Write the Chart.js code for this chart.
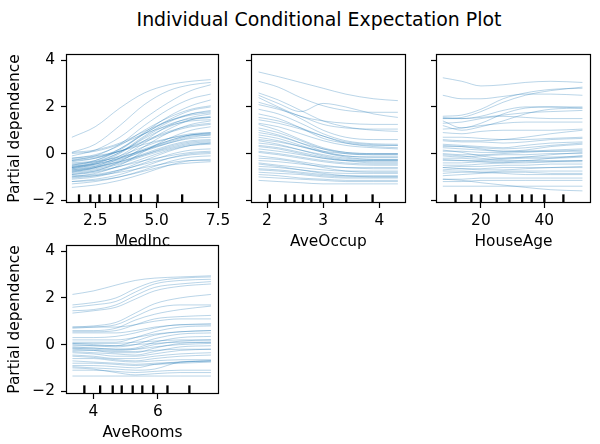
<!DOCTYPE html>
<html lang="en">
<head>
<meta charset="UTF-8" />
<title>Individual Conditional Expectation Plot</title>
<script src="https://cdn.jsdelivr.net/npm/chart.js"></script>
<style>
  body { margin: 0; background: #fff; }
  #wrap { position: relative; width: 600px; height: 444px; overflow: hidden; font-family: "DejaVu Sans"; }
  #wrap canvas { position: absolute; left: 0; top: 0; }
  #title { position: absolute; left: 0; top: 8px; width: 638px; text-align: center; font-size: 18.9px; color: #000; white-space: nowrap; }
</style>
</head>
<body>
<div id="wrap">
  <div id="title">Individual Conditional Expectation Plot</div>
  <canvas id="c1" width="600" height="444"></canvas>
  <canvas id="c2" width="600" height="444"></canvas>
  <canvas id="c3" width="600" height="444"></canvas>
  <canvas id="c4" width="600" height="444"></canvas>
</div>

<script>
  // shared y axis
  const yTicks = [-2, 0, 2, 4];
  const yTickLabels = ["\u22122", "0", "2", "4"];

  // MedInc
  const medIncGrid = [1.55, 2.5, 3.5, 4.5, 5.5, 6.4, 7.2];
  const medIncTicks = [2.5, 5.0, 7.5];
  const medIncTickLabels = ["2.5", "5.0", "7.5"];
  const medIncDeciles = [1.84, 2.3, 2.67, 3.11, 3.51, 3.95, 4.36, 5.04, 6.04];
  const medIncIce = [
    [0.7, 1.15, 1.95, 2.6, 2.95, 3.1, 3.17],
    [0.05, 0.4, 1.2, 2.1, 2.7, 2.95, 3.05],
    [-0.1, 0.15, 0.7, 1.5, 2.2, 2.7, 2.95],
    [-0.3, -0.1, 0.4, 1.2, 1.9, 2.35, 2.55],
    [-0.5, -0.3, 0.2, 0.9, 1.6, 2.05, 2.3],
    [-0.2, -0.05, 0.35, 1.0, 1.55, 1.9, 2.05],
    [-0.6, -0.4, 0.05, 0.75, 1.35, 1.7, 1.85],
    [-0.4, -0.3, 0.15, 0.85, 1.4, 1.7, 1.8],
    [-0.7, -0.55, -0.1, 0.55, 1.2, 1.55, 1.7],
    [-0.8, -0.6, -0.2, 0.45, 1.05, 1.45, 1.6],
    [-0.65, -0.45, 0.0, 0.7, 1.25, 1.5, 1.55],
    [-0.9, -0.75, -0.35, 0.3, 0.9, 1.25, 1.4],
    [-1.0, -0.85, -0.5, 0.1, 0.65, 1.0, 1.15],
    [-0.3, -0.2, 0.1, 0.55, 0.95, 1.2, 1.3],
    [-0.55, -0.4, -0.1, 0.3, 0.65, 0.85, 0.9],
    [-0.6, -0.45, -0.2, 0.2, 0.55, 0.8, 0.85],
    [-0.2, -0.1, 0.1, 0.4, 0.65, 0.8, 0.85],
    [-0.7, -0.6, -0.35, 0.0, 0.35, 0.55, 0.6],
    [-0.75, -0.65, -0.4, -0.05, 0.3, 0.5, 0.55],
    [-0.9, -0.8, -0.55, -0.2, 0.15, 0.35, 0.4],
    [-1.1, -1.0, -0.75, -0.4, -0.05, 0.15, 0.2],
    [-1.2, -1.1, -0.9, -0.55, -0.2, 0.0, 0.05],
    [-1.3, -1.2, -1.0, -0.7, -0.35, -0.15, -0.1],
    [-1.45, -1.35, -1.15, -0.85, -0.5, -0.3, -0.25],
    [-1.0, -0.95, -0.8, -0.6, -0.4, -0.3, -0.3],
    [-0.85, -0.75, -0.55, -0.3, -0.1, 0.05, 0.1],
    [0.0, 0.1, 0.4, 0.85, 1.2, 1.4, 1.45],
    [-0.45, -0.35, -0.15, 0.15, 0.45, 0.65, 0.7],
    [-0.95, -0.9, -0.7, -0.45, -0.2, -0.05, 0.0],
    [-1.2, -1.15, -1.0, -0.75, -0.5, -0.4, -0.35],
    [-0.5, -0.35, 0.05, 0.65, 1.15, 1.45, 1.55],
    [-0.35, -0.2, 0.2, 0.85, 1.45, 1.85, 2.0],
    [-0.75, -0.6, -0.3, 0.15, 0.55, 0.8, 0.9],
    [-0.6, -0.5, -0.25, 0.1, 0.45, 0.7, 0.8],
    [0.05, 0.15, 0.45, 0.95, 1.4, 1.65, 1.75],
    [-1.05, -0.95, -0.7, -0.3, 0.1, 0.35, 0.45],
    [-0.55, -0.45, -0.2, 0.15, 0.5, 0.75, 0.8],
    [-0.25, -0.15, 0.1, 0.5, 0.9, 1.15, 1.25],
    [-0.8, -0.7, -0.45, -0.1, 0.2, 0.4, 0.45],
    [-0.65, -0.55, -0.35, -0.05, 0.25, 0.45, 0.5]
  ];

  // AveOccup
  const aveOccupGrid = [1.85, 2.2, 2.6, 3.0, 3.4, 3.9, 4.33];
  const aveOccupTicks = [2, 3, 4];
  const aveOccupTickLabels = ["2", "3", "4"];
  const aveOccupDeciles = [2.05, 2.33, 2.49, 2.64, 2.79, 2.95, 3.16, 3.41, 3.88];
  const aveOccupIce = [
    [3.5, 3.3, 3.05, 2.8, 2.55, 2.35, 2.27],
    [3.1, 2.85, 2.4, 2.05, 1.85, 1.77, 1.77],
    [2.5, 2.15, 1.8, 2.15, 2.0, 1.7, 1.55],
    [2.6, 2.3, 1.85, 1.4, 1.15, 1.0, 0.95],
    [2.1, 1.9, 1.6, 1.25, 1.1, 1.05, 1.05],
    [2.2, 1.95, 1.5, 1.0, 0.7, 0.6, 0.6],
    [1.9, 1.7, 1.3, 0.85, 0.55, 0.42, 0.4],
    [1.45, 1.3, 1.05, 0.75, 0.45, 0.3, 0.25],
    [1.3, 1.15, 0.85, 0.55, 0.35, 0.25, 0.2],
    [1.25, 1.0, 0.6, 0.25, 0.05, 0.0, 0.0],
    [1.1, 0.9, 0.55, 0.2, 0.0, -0.05, -0.05],
    [1.0, 0.8, 0.45, 0.1, -0.1, -0.15, -0.15],
    [0.9, 0.75, 0.45, 0.2, 0.05, 0.0, 0.0],
    [0.7, 0.55, 0.3, 0.05, -0.1, -0.15, -0.15],
    [0.6, 0.5, 0.3, 0.1, 0.0, -0.05, -0.05],
    [0.45, 0.35, 0.15, -0.05, -0.2, -0.25, -0.25],
    [0.3, 0.2, 0.0, -0.2, -0.3, -0.35, -0.35],
    [0.2, 0.1, -0.05, -0.2, -0.3, -0.3, -0.3],
    [0.05, -0.05, -0.2, -0.35, -0.45, -0.5, -0.5],
    [-0.1, -0.2, -0.35, -0.5, -0.6, -0.65, -0.65],
    [-0.3, -0.35, -0.45, -0.55, -0.6, -0.6, -0.6],
    [-0.4, -0.5, -0.6, -0.7, -0.75, -0.75, -0.75],
    [-0.55, -0.6, -0.7, -0.8, -0.85, -0.85, -0.85],
    [-0.65, -0.7, -0.8, -0.9, -0.95, -0.95, -0.95],
    [-0.8, -0.85, -0.9, -1.0, -1.05, -1.05, -1.05],
    [-0.9, -0.95, -1.05, -1.1, -1.15, -1.15, -1.15],
    [-1.15, -1.2, -1.25, -1.3, -1.3, -1.3, -1.3],
    [0.8, 0.65, 0.35, 0.05, -0.15, -0.25, -0.25],
    [0.35, 0.25, 0.05, -0.15, -0.3, -0.4, -0.4],
    [1.55, 1.4, 1.1, 0.75, 0.5, 0.38, 0.35],
    [-0.2, -0.25, -0.4, -0.6, -0.75, -0.8, -0.8],
    [0.1, 0.0, -0.15, -0.3, -0.4, -0.45, -0.45],
    [-0.45, -0.55, -0.7, -0.85, -0.95, -1.0, -1.0],
    [2.4, 2.0, 1.6, 1.4, 1.3, 1.25, 1.25],
    [1.7, 1.5, 1.1, 0.65, 0.45, 0.35, 0.35],
    [0.55, 0.4, 0.15, -0.1, -0.25, -0.3, -0.3],
    [-0.7, -0.75, -0.85, -0.95, -1.0, -1.0, -1.0],
    [-1.0, -1.05, -1.1, -1.15, -1.2, -1.2, -1.2]
  ];

  // HouseAge
  const houseAgeGrid = [8, 14, 20, 27, 34, 42, 52];
  const houseAgeTicks = [20, 40];
  const houseAgeTickLabels = ["20", "40"];
  const houseAgeDeciles = [12, 17, 20, 25, 29, 33, 36, 40, 46];
  const houseAgeIce = [
    [3.25, 3.1, 2.9, 2.95, 3.05, 3.1, 3.05],
    [2.5, 2.35, 2.35, 2.45, 2.55, 2.55, 2.5],
    [1.6, 1.65, 1.9, 2.35, 2.6, 2.75, 2.8],
    [1.5, 1.55, 1.8, 2.2, 2.5, 2.7, 2.85],
    [1.55, 1.5, 1.6, 1.85, 2.0, 2.0, 1.95],
    [1.4, 1.1, 1.3, 1.7, 1.95, 2.0, 2.0],
    [1.5, 1.5, 1.55, 1.65, 1.75, 1.8, 1.85],
    [1.3, 1.35, 1.5, 1.6, 1.55, 1.5, 1.5],
    [1.2, 1.0, 1.15, 1.4, 1.7, 1.9, 1.95],
    [0.9, 0.85, 0.95, 1.0, 1.0, 1.0, 1.05],
    [0.6, 0.55, 0.55, 0.6, 0.7, 0.85, 1.0],
    [0.55, 0.5, 0.5, 0.45, 0.5, 0.6, 0.65],
    [0.4, 0.35, 0.3, 0.25, 0.35, 0.45, 0.5],
    [0.35, 0.3, 0.2, 0.1, 0.15, 0.3, 0.4],
    [0.25, 0.2, 0.15, 0.1, 0.1, 0.15, 0.2],
    [0.1, 0.1, 0.05, 0.05, 0.1, 0.1, 0.15],
    [0.0, -0.05, -0.05, 0.0, 0.05, 0.1, 0.1],
    [-0.1, -0.15, -0.1, -0.05, -0.05, 0.0, 0.0],
    [-0.2, -0.2, -0.25, -0.2, -0.15, -0.15, -0.1],
    [-0.3, -0.3, -0.3, -0.25, -0.2, -0.2, -0.15],
    [-0.4, -0.4, -0.35, -0.35, -0.3, -0.3, -0.3],
    [-0.5, -0.5, -0.45, -0.4, -0.35, -0.35, -0.35],
    [-0.6, -0.55, -0.55, -0.5, -0.5, -0.45, -0.45],
    [-0.7, -0.65, -0.65, -0.6, -0.6, -0.6, -0.6],
    [-0.85, -0.8, -0.8, -0.75, -0.75, -0.75, -0.75],
    [-0.95, -0.9, -0.85, -0.8, -0.8, -0.85, -0.85],
    [-1.1, -1.1, -1.05, -1.05, -1.05, -1.05, -1.05],
    [-1.2, -1.2, -1.15, -1.15, -1.15, -1.15, -1.15],
    [-1.1, -1.15, -1.25, -1.35, -1.45, -1.55, -1.6],
    [-1.4, -1.4, -1.4, -1.4, -1.4, -1.4, -1.4],
    [0.15, 0.05, -0.1, -0.2, -0.15, -0.05, 0.05],
    [-0.05, -0.1, -0.2, -0.3, -0.3, -0.2, -0.1],
    [0.7, 0.7, 0.65, 0.6, 0.6, 0.65, 0.7],
    [-0.25, -0.3, -0.35, -0.4, -0.4, -0.35, -0.3],
    [-0.6, -0.65, -0.7, -0.7, -0.65, -0.6, -0.55],
    [0.3, 0.3, 0.25, 0.2, 0.25, 0.35, 0.45],
    [1.05, 1.1, 1.2, 1.3, 1.35, 1.35, 1.35],
    [-0.75, -0.75, -0.8, -0.85, -0.9, -0.9, -0.9]
  ];

  // AveRooms
  const aveRoomsGrid = [3.35, 4.0, 4.7, 5.3, 5.9, 6.7, 7.65];
  const aveRoomsTicks = [4, 6];
  const aveRoomsTickLabels = ["4", "6"];
  const aveRoomsDeciles = [3.72, 4.21, 4.6, 4.88, 5.22, 5.52, 5.86, 6.3, 6.98];
  const aveRoomsIce = [
    [2.15, 2.3, 2.55, 2.75, 2.85, 2.9, 2.95],
    [1.7, 1.8, 2.0, 2.4, 2.7, 2.85, 2.9],
    [1.6, 1.7, 1.85, 2.25, 2.6, 2.75, 2.8],
    [1.45, 1.5, 1.7, 2.1, 2.45, 2.6, 2.7],
    [1.35, 1.45, 1.6, 1.95, 2.3, 2.5, 2.6],
    [0.75, 0.8, 0.95, 1.35, 1.75, 2.0, 2.15],
    [0.7, 0.75, 0.85, 1.2, 1.55, 1.7, 1.7],
    [0.6, 0.6, 0.7, 1.05, 1.3, 1.5, 1.65],
    [0.75, 0.75, 0.75, 0.85, 1.0, 1.1, 1.1],
    [0.5, 0.5, 0.5, 0.6, 0.75, 0.85, 0.9],
    [0.1, 0.1, 0.1, 0.3, 0.55, 0.75, 0.8],
    [0.05, 0.0, -0.05, 0.15, 0.4, 0.55, 0.6],
    [0.0, -0.05, -0.1, 0.0, 0.25, 0.45, 0.5],
    [-0.1, -0.15, -0.2, -0.15, 0.1, 0.3, 0.35],
    [-0.15, -0.2, -0.25, -0.2, 0.0, 0.15, 0.2],
    [-0.2, -0.25, -0.35, -0.35, -0.15, 0.05, 0.1],
    [-0.3, -0.35, -0.4, -0.45, -0.3, -0.1, -0.05],
    [-0.35, -0.4, -0.5, -0.5, -0.4, -0.25, -0.2],
    [-0.45, -0.5, -0.6, -0.6, -0.5, -0.4, -0.35],
    [-0.6, -0.6, -0.7, -0.75, -0.7, -0.65, -0.65],
    [-0.9, -0.9, -0.95, -1.0, -0.85, -0.75, -0.7],
    [-0.95, -1.0, -1.05, -1.1, -1.05, -0.75, -0.7],
    [-1.0, -1.05, -1.2, -1.3, -1.25, -1.2, -1.2],
    [-1.35, -1.35, -1.35, -1.35, -1.35, -1.35, -1.35],
    [0.05, 0.05, 0.05, 0.1, 0.15, 0.2, 0.2],
    [-0.05, -0.05, -0.05, 0.0, 0.05, 0.1, 0.1],
    [-0.25, -0.25, -0.3, -0.3, -0.25, -0.2, -0.2],
    [-0.7, -0.75, -0.8, -0.85, -0.8, -0.75, -0.7],
    [0.55, 0.55, 0.6, 0.85, 1.1, 1.2, 1.25],
    [0.3, 0.3, 0.35, 0.5, 0.7, 0.85, 0.85],
    [-0.5, -0.55, -0.65, -0.7, -0.6, -0.5, -0.45],
    [-0.8, -0.8, -0.85, -0.9, -0.85, -0.8, -0.75],
    [-0.15, -0.15, -0.2, -0.2, -0.1, 0.0, 0.05],
    [0.2, 0.2, 0.2, 0.3, 0.45, 0.55, 0.6],
    [-1.1, -1.1, -1.15, -1.2, -1.15, -1.1, -1.1]
  ];

  const FONT = "DejaVu Sans";
  const FONT_SIZE = 15.4;
  const LINE_COLOR = "rgba(31, 119, 180, 0.35)";
  const Y_MIN = -2.12, Y_MAX = 4.27;
  const X_AXIS_H = 48;
  const PAD_LEFT = 6;

  // white axes background + black frame + decile rug
  const axesPlugin = {
    id: "axesFrame",
    beforeDraw(chart) {
      const { ctx, chartArea: a } = chart;
      ctx.save();
      ctx.fillStyle = "#fff";
      ctx.fillRect(a.left, a.top, a.right - a.left, a.bottom - a.top);
      ctx.restore();
    },
    afterDatasetsDraw(chart, args, opts) {
      const { ctx, chartArea: a, scales: { x } } = chart;
      const h = (a.bottom - a.top) * 0.058;
      ctx.save();
      ctx.strokeStyle = "#000";
      ctx.lineWidth = 2.3;
      opts.deciles.forEach(v => {
        const px = x.getPixelForValue(v);
        ctx.beginPath();
        ctx.moveTo(px, a.bottom);
        ctx.lineTo(px, a.bottom - h);
        ctx.stroke();
      });
      ctx.lineWidth = 1.2;
      ctx.strokeRect(a.left + 0.5, a.top + 0.5, a.right - a.left - 1, a.bottom - a.top - 1);
      ctx.restore();
    }
  };

  function makePanel(id, box, grid, ice, xMin, xMax, ticks, tickLabels, deciles, xTitle, showY) {
    const datasets = ice.map(line => ({
      data: line.map((y, i) => ({ x: grid[i], y })),
      borderColor: LINE_COLOR,
      borderWidth: 0.9,
      pointRadius: 0,
      fill: false,
      cubicInterpolationMode: "monotone"
    }));

    const font = { family: FONT, size: FONT_SIZE };
    const gridOpts = { drawOnChartArea: false, drawTicks: true, tickLength: 5, tickColor: "#000", tickWidth: 1.2 };

    new Chart(document.getElementById(id), {
      type: "line",
      data: { datasets },
      plugins: [axesPlugin],
      options: {
        responsive: false,
        animation: false,
        events: [],
        layout: {
          padding: { left: PAD_LEFT, top: box.top, right: 600 - box.right, bottom: 444 - box.bottom - X_AXIS_H }
        },
        plugins: {
          legend: { display: false },
          tooltip: { enabled: false },
          axesFrame: { deciles }
        },
        scales: {
          x: {
            type: "linear",
            min: xMin,
            max: xMax,
            afterBuildTicks: s => { s.ticks = ticks.map(v => ({ value: v })); },
            afterFit: s => { s.height = X_AXIS_H; },
            border: { display: false },
            grid: gridOpts,
            ticks: { color: "#000", font, padding: 4, maxRotation: 0, callback: (v, i) => tickLabels[i] },
            title: { display: true, text: xTitle, color: "#000", font, padding: 0 }
          },
          y: {
            type: "linear",
            min: Y_MIN,
            max: Y_MAX,
            afterBuildTicks: s => { s.ticks = yTicks.map(v => ({ value: v })); },
            afterFit: s => { s.width = box.left - PAD_LEFT; },
            border: { display: false },
            grid: gridOpts,
            ticks: { color: "#000", font, padding: 6, callback: (v, i) => showY ? yTickLabels[i] : "" },
            title: { display: showY, text: "Partial dependence", color: "#000", font, padding: 0 }
          }
        }
      }
    });
  }

  makePanel("c1", { left: 66, top: 54, right: 219, bottom: 203 }, medIncGrid, medIncIce, 1.31, 7.54,
    medIncTicks, medIncTickLabels, medIncDeciles, "MedInc", true);
  makePanel("c2", { left: 251, top: 54, right: 406, bottom: 203 }, aveOccupGrid, aveOccupIce, 1.715, 4.475,
    aveOccupTicks, aveOccupTickLabels, aveOccupDeciles, "AveOccup", false);
  makePanel("c3", { left: 436, top: 54, right: 591, bottom: 203 }, houseAgeGrid, houseAgeIce, 5.85, 54.7,
    houseAgeTicks, houseAgeTickLabels, houseAgeDeciles, "HouseAge", false);
  makePanel("c4", { left: 66, top: 245, right: 219, bottom: 394 }, aveRoomsGrid, aveRoomsIce, 3.15, 7.9,
    aveRoomsTicks, aveRoomsTickLabels, aveRoomsDeciles, "AveRooms", true);
</script>
</body>
</html>
